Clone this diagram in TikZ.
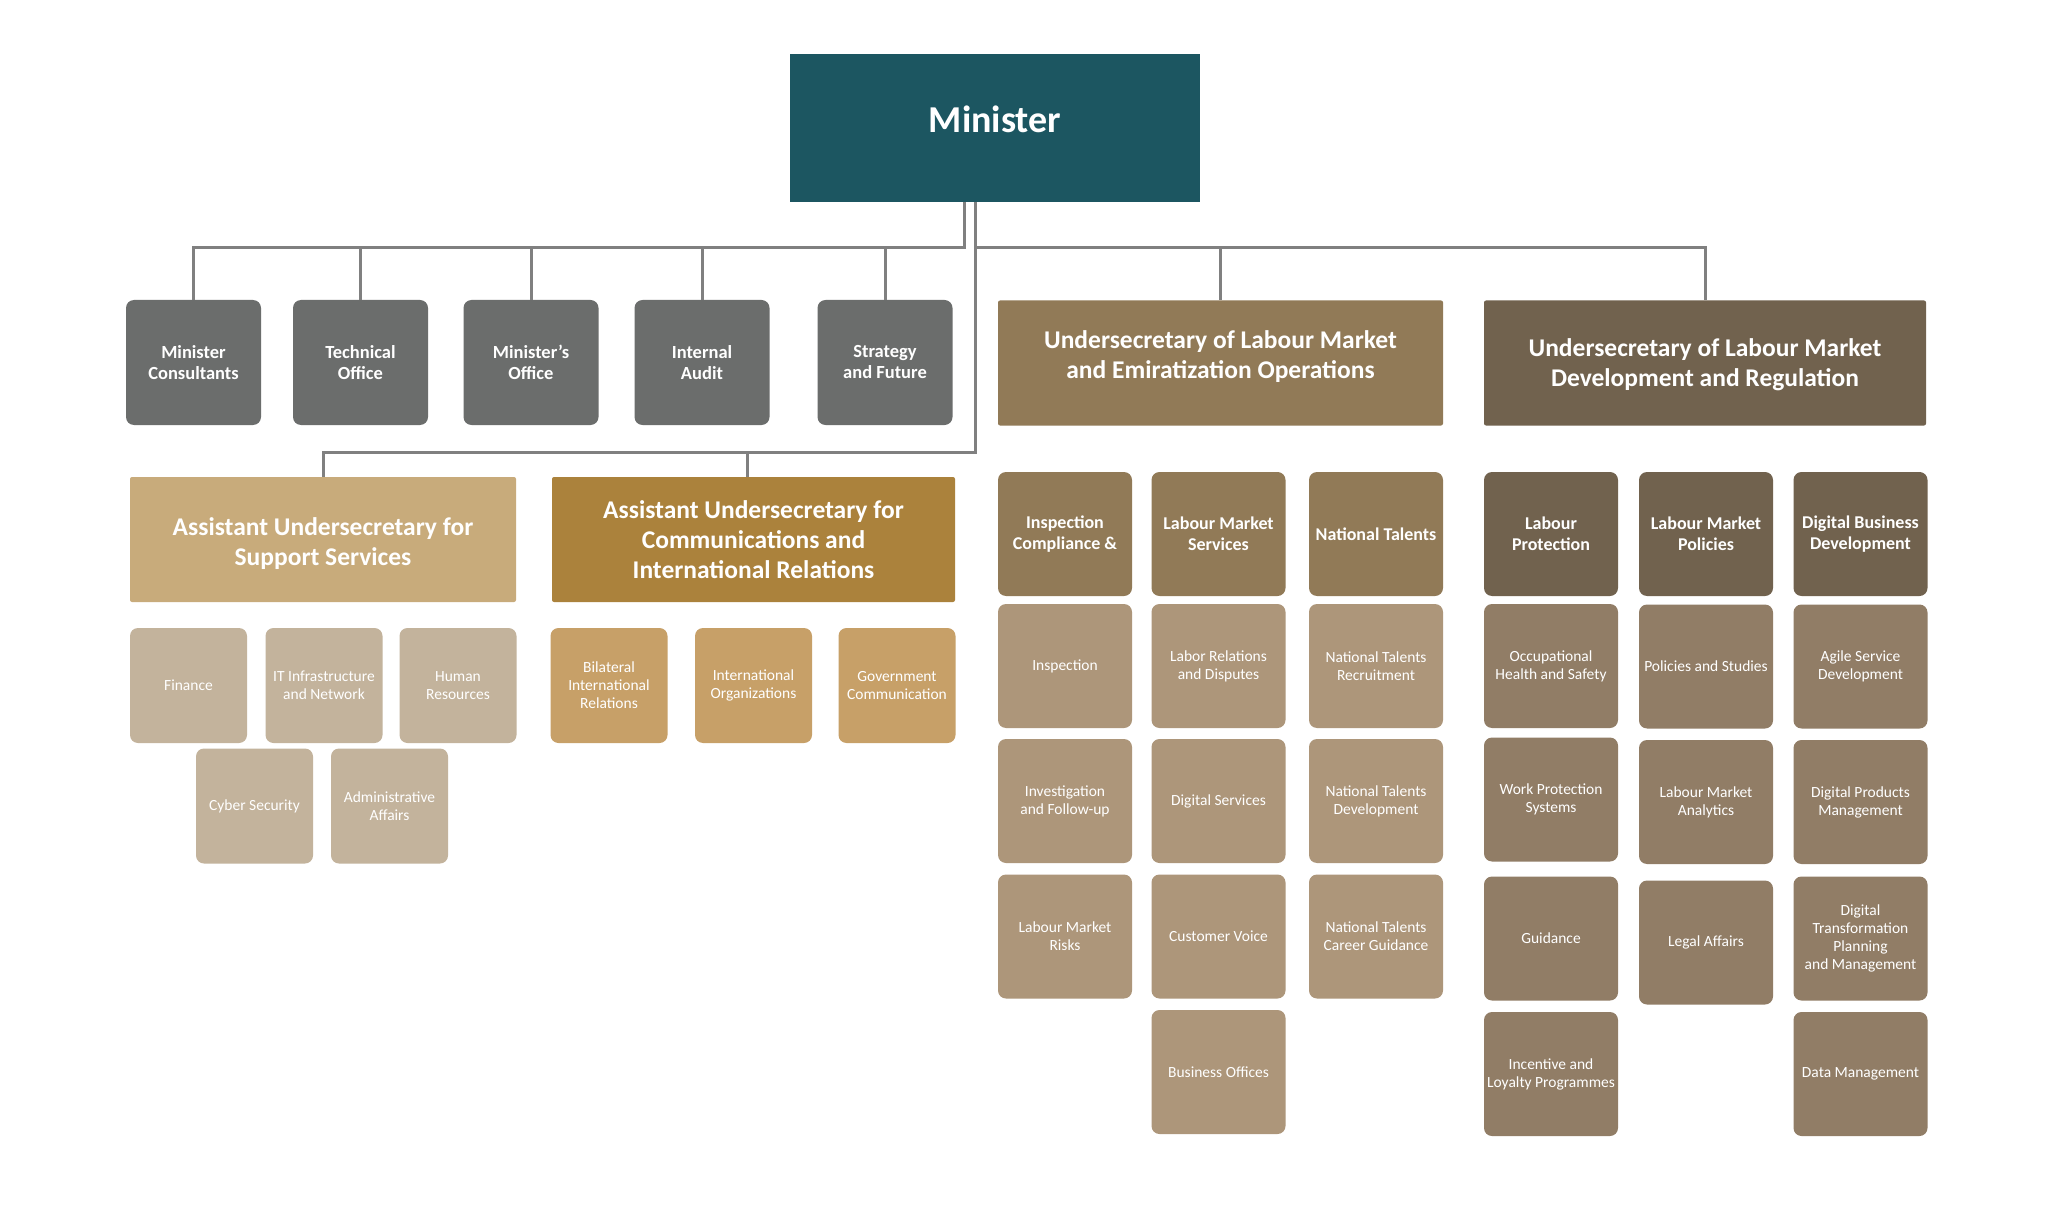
\documentclass[tikz,border=0pt]{standalone}
\usepackage{fontspec}
\setmainfont{Carlito}
\definecolor{minc}{HTML}{1C5661}
\definecolor{greyc}{HTML}{6B6D6C}
\definecolor{opsc}{HTML}{917A57}
\definecolor{devc}{HTML}{71624E}
\definecolor{supc}{HTML}{C8AB7B}
\definecolor{comc}{HTML}{AB823C}
\definecolor{supsub}{HTML}{C3B39C}
\definecolor{comsub}{HTML}{C7A068}
\definecolor{opssub}{HTML}{AD967A}
\definecolor{devsub}{HTML}{917D66}
\definecolor{linec}{HTML}{808080}
\begin{document}
\begin{tikzpicture}[x=1pt,y=-1pt,
  box/.style={rectangle,draw=none,text=white,align=center,inner sep=2pt},
  minbox/.style={box,fill=minc,minimum width=410pt,minimum height=148pt},
  mintext/.style={text=white,font=\fontsize{38}{44}\selectfont\bfseries},
  gbox/.style={box,fill=greyc,rounded corners=8pt,minimum width=135pt,minimum height=125pt,font=\fontsize{18.5}{21}\selectfont\bfseries},
  bigbox/.style={box,rounded corners=2pt,minimum height=125pt,font=\fontsize{25.5}{30}\selectfont\bfseries},
  colhead/.style={box,rounded corners=8pt,minimum width=134pt,minimum height=124pt,font=\fontsize{18}{21}\selectfont\bfseries},
  subbox/.style={box,rounded corners=8pt,minimum width=134pt,minimum height=124pt,font=\fontsize{15.5}{18}\selectfont},
  smallsub/.style={box,rounded corners=8pt,minimum width=117pt,minimum height=115pt,font=\fontsize{15.5}{18}\selectfont},
  bigtext/.style={text=white,align=center,font=\fontsize{25.5}{30}\selectfont\bfseries},
  conn/.style={draw=linec,line width=3pt}]
\useasboundingbox[fill=white] (0,0) rectangle (2048,1222);

% Minister
\node[minbox] (min) at (995,128) {};
\node[mintext] (mint) at (995,119) {Minister};

% second row
\node[gbox] (mc) at (193.5,362.5) {Minister\\Consultants};
\node[gbox] (to) at (360.5,362.5) {Technical\\Office};
\node[gbox] (mo) at (531,362.5) {Minister's\\Office};
\node[gbox] (ia) at (702,362.5) {Internal\\Audit};
\node[gbox] (sf) at (885,362.5) {Strategy\\and Future};

\node[bigbox,fill=opsc,minimum width=445pt] (ops) at (1220.5,363) {};
\node[bigtext] (opst) at (1220.5,357) {Undersecretary of Labour Market\\and Emiratization Operations};
\node[bigbox,fill=devc,minimum width=442pt] (dev) at (1705,363) {};
\node[bigtext] (devt) at (1705,365) {Undersecretary of Labour Market\\Development and Regulation};

% assistant undersecretaries
\node[bigbox,fill=supc,minimum width=386pt] (sup) at (323,539.5) {};
\node[bigtext] (supt) at (323,543.5) {Assistant Undersecretary for\\Support Services};
\node[bigbox,fill=comc,minimum width=403pt] (com) at (753.5,539.5) {Assistant Undersecretary for\\Communications and\\International Relations};

% connectors
\coordinate (busL) at (964,248);
\coordinate (busR) at (975,248);
\coordinate (busB) at (975,452);
\draw[conn] (min.south -| busL) -- (busL) -| (mc.north);
\draw[conn] (busL -| to.north) -- (to.north);
\draw[conn] (busL -| mo.north) -- (mo.north);
\draw[conn] (busL -| ia.north) -- (ia.north);
\draw[conn] (busL -| sf.north) -- (sf.north);
\draw[conn] (min.south -| busR) -- (busB) -| (sup.north);
\draw[conn] (busR) -| (dev.north);
\draw[conn] (busR -| ops.north) -- (ops.north);
\coordinate (comtop) at (747,477);
\draw[conn] (busB -| comtop) -- (comtop);

% support subs
\node[smallsub,fill=supsub] (fin) at (188.5,685.5) {Finance};
\node[smallsub,fill=supsub] (itn) at (324,685.5) {IT Infrastructure\\and Network};
\node[smallsub,fill=supsub] (hr) at (458,685.5) {Human\\Resources};
\node[smallsub,fill=supsub] (cyb) at (254.5,806) {Cyber Security};
\node[smallsub,fill=supsub] (adm) at (389.5,806) {Administrative\\Affairs};

% comms subs
\node[smallsub,fill=comsub] (bil) at (609,685.5) {Bilateral\\International\\Relations};
\node[smallsub,fill=comsub] (ino) at (753.5,685.5) {International\\Organizations};
\node[smallsub,fill=comsub] (gov) at (897,685.5) {Government\\Communication};

% ops columns
\node[colhead,fill=opsc] (ic) at (1065,534) {Inspection\\Compliance \&};
\node[colhead,fill=opsc] (lms) at (1218.5,534) {Labour Market\\Services};
\node[colhead,fill=opsc] (nt) at (1376,534) {National Talents};
\node[subbox,fill=opssub] (insp) at (1065,666) {Inspection};
\node[subbox,fill=opssub] (inv) at (1065,801) {Investigation\\and Follow-up};
\node[subbox,fill=opssub] (lmr) at (1065,936.5) {Labour Market\\Risks};
\node[subbox,fill=opssub] (lrd) at (1218.5,666) {Labor Relations\\and Disputes};
\node[subbox,fill=opssub] (dsv) at (1218.5,801) {Digital Services};
\node[subbox,fill=opssub] (cv) at (1218.5,936.5) {Customer Voice};
\node[subbox,fill=opssub] (bo) at (1218.5,1072) {Business Offices};
\node[subbox,fill=opssub] (ntr) at (1376,666) {National Talents\\Recruitment};
\node[subbox,fill=opssub] (ntd) at (1376,801) {National Talents\\Development};
\node[subbox,fill=opssub] (ntc) at (1376,936.5) {National Talents\\Career Guidance};

% dev columns
\node[colhead,fill=devc] (lp) at (1551,534) {Labour\\Protection};
\node[colhead,fill=devc] (lmp) at (1706,534) {Labour Market\\Policies};
\node[colhead,fill=devc] (dbd) at (1860.5,534) {Digital Business\\Development};
\node[subbox,fill=devsub] (ohs) at (1551,666) {Occupational\\Health and Safety};
\node[subbox,fill=devsub] (wps) at (1551,799.5) {Work Protection\\Systems};
\node[subbox,fill=devsub] (gui) at (1551,938.5) {Guidance};
\node[subbox,fill=devsub] (ilp) at (1551,1074) {Incentive and\\Loyalty Programmes};
\node[subbox,fill=devsub] (pas) at (1706,666.5) {Policies and Studies};
\node[subbox,fill=devsub] (lma) at (1706,802) {Labour Market\\Analytics};
\node[subbox,fill=devsub] (leg) at (1706,942.5) {Legal Affairs};
\node[subbox,fill=devsub] (asd) at (1860.5,666.5) {Agile Service\\Development};
\node[subbox,fill=devsub] (dpm) at (1860.5,802) {Digital Products\\Management};
\node[subbox,fill=devsub] (dtp) at (1860.5,938.5) {Digital\\Transformation\\Planning\\and Management};
\node[subbox,fill=devsub] (dm) at (1860.5,1074) {Data Management};
\end{tikzpicture}
\end{document}
